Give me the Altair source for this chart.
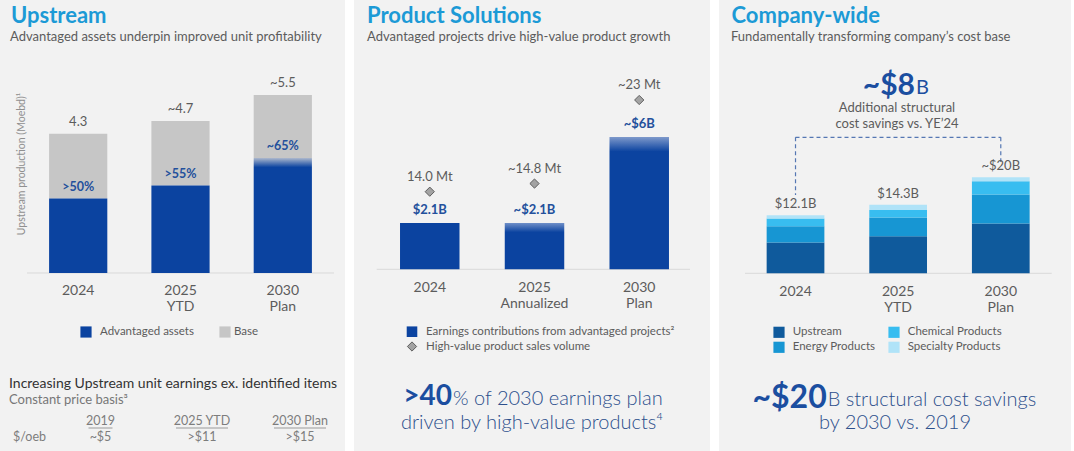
import altair as alt
import pandas as pd

FONT = "Lato"
BG = "#f2f2f2"
TITLE_BLUE = "#1c9ad6"
BAR_BLUE = "#0b43a0"
LABEL_BLUE = "#23509c"
PHRASE_BLUE = "#2c4f8c"
GREY_TEXT = "#5c5c5c"
LIGHT_TEXT = "#7d7d7d"
BASE_GREY = "#c6c6c6"
AXIS_GREY = "#d9d9d9"

# ---- Upstream: production by asset type (Moebd) ----
up_cats = ["2024", "2025 YTD", "2030 Plan"]
up_line1 = ["2024", "2025", "2030"]
up_line2 = ["", "YTD", "Plan"]
up_advantaged = [2.3, 2.7, 3.55]
up_total = [4.3, 4.7, 5.5]
up_total_labels = ["4.3", "~4.7", "~5.5"]
up_share_labels = [">50%", ">55%", "~65%"]

# Unit earnings table
ue_years = ["2019", "2025 YTD", "2030 Plan"]
ue_values = ["~$5", ">$11", ">$15"]

# ---- Product Solutions ----
ps_cats = ["2024", "2025 Annualized", "2030 Plan"]
ps_line1 = ["2024", "2025", "2030"]
ps_line2 = ["", "Annualized", "Plan"]
ps_earnings = [2.1, 2.1, 6.0]
ps_earn_labels = ["$2.1B", "~$2.1B", "~$6B"]
ps_volume = [14.0, 14.8, 23.0]
ps_vol_labels = ["14.0 Mt", "~14.8 Mt", "~23 Mt"]

# ---- Company-wide structural cost savings ($B) ----
cw_cats = ["2024", "2025 YTD", "2030 Plan"]
cw_line1 = ["2024", "2025", "2030"]
cw_line2 = ["", "YTD", "Plan"]
cw_segments = ["Upstream", "Energy Products", "Chemical Products", "Specialty Products"]
cw_colors = ["#0f5a9c", "#1796d3", "#38bdf0", "#b0e3f8"]
cw_upstream = [6.4, 7.7, 10.4]
cw_energy = [3.4, 3.9, 6.0]
cw_chemical = [1.6, 1.6, 2.8]
cw_specialty = [0.7, 1.1, 0.8]
cw_totals = [12.1, 14.3, 20.0]
cw_total_labels = ["$12.1B", "$14.3B", "~$20B"]

ONE = pd.DataFrame({"k": [0]})


def note(text, x, y, size=12, color=GREY_TEXT, weight="normal", align="left",
         angle=0, baseline="middle"):
    return alt.Chart(ONE).mark_text(
        text=text, font=FONT, fontSize=size, color=color, fontWeight=weight,
        align=align, baseline=baseline, angle=angle,
    ).encode(x=alt.value(x), y=alt.value(y))


def swatch(x, y, color, shape="square", size=125, stroke=None):
    kw = dict(shape=shape, size=size, filled=True, fill=color, opacity=1)
    if stroke:
        kw.update(stroke=stroke, strokeWidth=1)
    return alt.Chart(ONE).mark_point(**kw).encode(x=alt.value(x), y=alt.value(y))


def hline(x1, x2, y, color=AXIS_GREY):
    return alt.Chart(ONE).mark_rule(color=color, strokeWidth=1).encode(
        x=alt.value(x1), x2=alt.value(x2), y=alt.value(y))


def fade(top, offset):
    return {"gradient": "linear", "x1": 0, "x2": 0, "y1": 0, "y2": 1,
            "stops": [{"offset": 0, "color": top},
                      {"offset": offset, "color": BAR_BLUE},
                      {"offset": 1, "color": BAR_BLUE}]}


# ================= Panel 1: Upstream =================
up_df = pd.DataFrame({
    "cat": up_cats, "adv": up_advantaged, "total": up_total,
    "tot_label": up_total_labels, "share": up_share_labels,
    "l1": up_line1, "l2": up_line2,
})
up_x = alt.X("cat:N", sort=up_cats, axis=None,
             scale=alt.Scale(domain=up_cats, range=[27, 334],
                             paddingInner=0.431, paddingOuter=0.216))
up_ys = alt.Scale(domain=[0, 5.5], range=[273, 95], nice=False, zero=True)

up_base = alt.Chart(up_df).mark_bar(color=BASE_GREY).encode(
    x=up_x, y=alt.Y("total:Q", scale=up_ys, axis=None), y2="adv:Q")
up_adv = alt.Chart(up_df).transform_filter(alt.datum.cat != "2030 Plan").mark_bar(
    color=BAR_BLUE).encode(x=up_x, y=alt.Y("adv:Q", scale=up_ys, axis=None))
up_adv_plan = alt.Chart(up_df).transform_filter(alt.datum.cat == "2030 Plan").mark_bar(
    color=fade("#aab6cc", 0.08)).encode(x=up_x, y=alt.Y("adv:Q", scale=up_ys, axis=None))
up_tot_text = alt.Chart(up_df).mark_text(
    font=FONT, fontSize=13, color=GREY_TEXT, dy=-12).encode(
    x=up_x, y=alt.Y("total:Q", scale=up_ys, axis=None), text="tot_label:N")
up_share_text = alt.Chart(up_df).mark_text(
    font=FONT, fontSize=12.5, color=LABEL_BLUE, fontWeight="bold", dy=-12).encode(
    x=up_x, y=alt.Y("adv:Q", scale=up_ys, axis=None), text="share:N")
up_cat1 = alt.Chart(up_df).mark_text(font=FONT, fontSize=14, color=GREY_TEXT).encode(
    x=up_x, y=alt.value(291), text="l1:N")
up_cat2 = alt.Chart(up_df).mark_text(font=FONT, fontSize=14, color=GREY_TEXT).encode(
    x=up_x, y=alt.value(307), text="l2:N")

ue_pos_scale = alt.Scale(domain=[0, 345], range=[0, 345])
ue_df = pd.DataFrame({"year": ue_years, "val": ue_values, "pos": [100.5, 202, 300]})
ue_head = alt.Chart(ue_df).mark_text(font=FONT, fontSize=12.5, color=LIGHT_TEXT).encode(
    x=alt.X("pos:Q", scale=ue_pos_scale, axis=None), y=alt.value(421), text="year:N")
ue_vals = alt.Chart(ue_df).mark_text(font=FONT, fontSize=12.5, color=LIGHT_TEXT).encode(
    x=alt.X("pos:Q", scale=ue_pos_scale, axis=None), y=alt.value(436.5), text="val:N")
ue_under = [hline(c - w / 2, c + w / 2, 428, "#9a9a9a")
            for c, w in zip([100.5, 202, 300], [24, 52, 52])]

panel1 = alt.layer(
    note("Upstream", 11, 16, size=22, color=TITLE_BLUE, weight="bold"),
    note("Advantaged assets underpin improved unit profitability", 10, 37, size=13),
    note("Upstream production (Moebd)\u00b9", 22, 164, size=10.5, color="#8f8f8f",
         align="center", angle=270),
    hline(27, 334, 273),
    up_base, up_adv, up_adv_plan, up_tot_text, up_share_text, up_cat1, up_cat2,
    swatch(86, 332, BAR_BLUE), note("Advantaged assets", 100, 332, size=11.5),
    swatch(225, 332, BASE_GREY), note("Base", 234, 332, size=11.5),
    note("Increasing Upstream unit earnings ex. identified items", 9, 384,
         size=14, color="#333333"),
    note("Constant price basis\u00b3", 9, 400, size=13, color="#777777"),
    ue_head, ue_vals, *ue_under,
    note("$/oeb", 13, 436.5, size=12.5, color=LIGHT_TEXT),
).resolve_scale(x="independent").properties(width=345, height=451)

# ================= Panel 2: Product Solutions =================
ps_df = pd.DataFrame({
    "cat": ps_cats, "earn": ps_earnings, "earn_label": ps_earn_labels,
    "vol": ps_volume, "vol_label": ps_vol_labels, "l1": ps_line1, "l2": ps_line2,
})
ps_x = alt.X("cat:N", sort=ps_cats, axis=None,
             scale=alt.Scale(domain=ps_cats, range=[23.4, 337.6],
                             paddingInner=0.432, paddingOuter=0.216))
ps_ys = alt.Scale(domain=[0, 6], range=[269.3, 137], nice=False, zero=True)
ps_vs = alt.Scale(domain=[14, 23], range=[191.7, 100], nice=False, zero=False)

ps_bar_2024 = alt.Chart(ps_df).transform_filter(alt.datum.cat == "2024").mark_bar(
    color=BAR_BLUE).encode(x=ps_x, y=alt.Y("earn:Q", scale=ps_ys, axis=None))
ps_bar_2025 = alt.Chart(ps_df).transform_filter(alt.datum.cat == "2025 Annualized").mark_bar(
    color=fade("#6f8fc8", 0.2)).encode(x=ps_x, y=alt.Y("earn:Q", scale=ps_ys, axis=None))
ps_bar_2030 = alt.Chart(ps_df).transform_filter(alt.datum.cat == "2030 Plan").mark_bar(
    color=fade("#7e99cb", 0.11)).encode(x=ps_x, y=alt.Y("earn:Q", scale=ps_ys, axis=None))
ps_earn_text = alt.Chart(ps_df).mark_text(
    font=FONT, fontSize=13, color=LABEL_BLUE, fontWeight="bold", dy=-13).encode(
    x=ps_x, y=alt.Y("earn:Q", scale=ps_ys, axis=None), text="earn_label:N")
ps_diamonds = alt.Chart(ps_df).mark_point(
    shape="diamond", filled=True, size=85, fill="#a3a3a3", stroke="#5e5e5e",
    strokeWidth=1, opacity=1).encode(x=ps_x, y=alt.Y("vol:Q", scale=ps_vs, axis=None))
ps_vol_text = alt.Chart(ps_df).mark_text(
    font=FONT, fontSize=13, color=GREY_TEXT, dy=-15).encode(
    x=ps_x, y=alt.Y("vol:Q", scale=ps_vs, axis=None), text="vol_label:N")
ps_cat1 = alt.Chart(ps_df).mark_text(font=FONT, fontSize=14, color=GREY_TEXT).encode(
    x=ps_x, y=alt.value(288), text="l1:N")
ps_cat2 = alt.Chart(ps_df).mark_text(font=FONT, fontSize=14, color=GREY_TEXT).encode(
    x=ps_x, y=alt.value(304), text="l2:N")

panel2 = alt.layer(
    note("Product Solutions", 13, 16, size=22, color=TITLE_BLUE, weight="bold"),
    note("Advantaged projects drive high-value product growth", 13, 37, size=13),
    hline(22.7, 336, 269.3),
    ps_bar_2024, ps_bar_2025, ps_bar_2030, ps_earn_text,
    ps_diamonds, ps_vol_text, ps_cat1, ps_cat2,
    swatch(58, 331.7, BAR_BLUE, size=112),
    note("Earnings contributions from advantaged projects\u00b2", 72, 331.7, size=11.5),
    swatch(58, 346.5, "#a3a3a3", shape="diamond", size=85, stroke="#5e5e5e"),
    note("High-value product sales volume", 72, 346.5, size=11.5),
    note(">40", 98, 397, size=28, color="#1b4ea0", weight="bold", align="right"),
    note("% of 2030 earnings plan", 99, 399, size=20, color=PHRASE_BLUE, weight=300),
    note("driven by high-value products\u2074", 178, 423, size=20, color=PHRASE_BLUE,
         weight=300, align="center"),
).resolve_scale(y="independent").properties(width=356, height=451)

# ================= Panel 3: Company-wide =================
rows = []
for i, cat in enumerate(cw_cats):
    for j, (seg, vals) in enumerate(zip(cw_segments,
                                        [cw_upstream, cw_energy, cw_chemical, cw_specialty])):
        rows.append({"cat": cat, "segment": seg, "value": vals[i], "idx": j})
cw_long = pd.DataFrame(rows)
cw_tot = pd.DataFrame({"cat": cw_cats, "total": cw_totals, "label": cw_total_labels,
                       "l1": cw_line1, "l2": cw_line2})

cw_x = alt.X("cat:N", sort=cw_cats, axis=None,
             scale=alt.Scale(domain=cw_cats, range=[25.2, 333.1],
                             paddingInner=0.4376, paddingOuter=0.2188))
cw_ys = alt.Scale(domain=[0, 20], range=[273.3, 177.3], nice=False, zero=True)

cw_bars = alt.Chart(cw_long).mark_bar().encode(
    x=cw_x,
    y=alt.Y("value:Q", stack="zero", scale=cw_ys, axis=None),
    color=alt.Color("segment:N", scale=alt.Scale(domain=cw_segments, range=cw_colors),
                    legend=None),
    order=alt.Order("idx:Q", sort="ascending"),
)
cw_tot_text = alt.Chart(cw_tot).mark_text(
    font=FONT, fontSize=13, color=GREY_TEXT, dy=-11).encode(
    x=cw_x, y=alt.Y("total:Q", scale=cw_ys, axis=None), text="label:N")
cw_cat1 = alt.Chart(cw_tot).mark_text(font=FONT, fontSize=14, color=GREY_TEXT).encode(
    x=cw_x, y=alt.value(292), text="l1:N")
cw_cat2 = alt.Chart(cw_tot).mark_text(font=FONT, fontSize=14, color=GREY_TEXT).encode(
    x=cw_x, y=alt.value(307.5), text="l2:N")

# bracket linking 2024 and the 2030 plan
BRACKET = "#5577b3"
bracket_top = alt.Chart(ONE).mark_rule(color=BRACKET, strokeWidth=1.2, strokeDash=[4, 3]).encode(
    x=alt.value(76.5), x2=alt.value(281.8), y=alt.value(137.3))
bracket_left = alt.Chart(cw_tot).transform_filter(alt.datum.cat == "2024").mark_rule(
    color=BRACKET, strokeWidth=1.2, strokeDash=[4, 3]).encode(
    x=cw_x, y=alt.value(137.3), y2=alt.value(195))
bracket_right = alt.Chart(cw_tot).transform_filter(alt.datum.cat == "2030 Plan").mark_rule(
    color=BRACKET, strokeWidth=1.2, strokeDash=[4, 3]).encode(
    x=cw_x, y=alt.value(137.3), y2=alt.value(162))

panel3 = alt.layer(
    note("Company-wide", 12.5, 16, size=22, color=TITLE_BLUE, weight="bold"),
    note("Fundamentally transforming company\u2019s cost base", 12, 37, size=13),
    note("~$8", 196, 86, size=30, color="#1b4ea0", weight="bold", align="right"),
    note("B", 197, 88, size=20, color="#1b4ea0"),
    note("Additional structural", 178, 108.3, size=13, align="center"),
    note("cost savings vs. YE\u201924", 178, 124, size=13, align="center"),
    bracket_top, bracket_left, bracket_right,
    hline(26, 332.7, 273.3),
    cw_bars, cw_tot_text, cw_cat1, cw_cat2,
    swatch(60, 332.3, cw_colors[0]), note("Upstream", 73.7, 332.3, size=11.5),
    swatch(60, 347.3, cw_colors[1]), note("Energy Products", 73.7, 347.3, size=11.5),
    swatch(175, 332.3, cw_colors[2]), note("Chemical Products", 188.7, 332.3, size=11.5),
    swatch(175, 347.3, cw_colors[3]), note("Specialty Products", 188.7, 347.3, size=11.5),
    note("~$20", 107.7, 398, size=32, color="#1b4ea0", weight="bold", align="right"),
    note("B structural cost savings", 108.7, 400, size=20, color=PHRASE_BLUE, weight=300),
    note("by 2030 vs. 2019", 176, 423, size=20, color=PHRASE_BLUE, weight=300,
         align="center"),
).properties(width=352, height=451)

chart = alt.hconcat(panel1, panel2, panel3, spacing=9).properties(
    padding=0, background="white"
).configure_view(stroke=None, fill=BG)

chart.save("out.html", embed_options={"renderer": "svg", "actions": False})
